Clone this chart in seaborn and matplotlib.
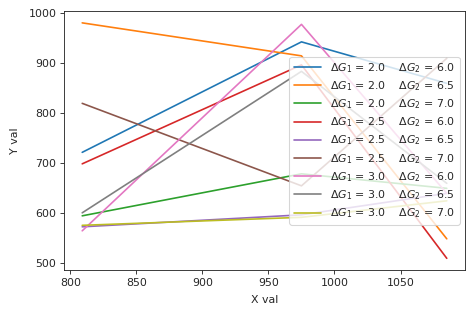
import matplotlib
matplotlib.use("Agg")
import matplotlib.pyplot as plt
import seaborn as sns
import pandas as pd

x_vals = [809, 975, 1085]
dg1 = [2.0, 2.0, 2.0, 2.5, 2.5, 2.5, 3.0, 3.0, 3.0]
dg2 = [6.0, 6.5, 7.0, 6.0, 6.5, 7.0, 6.0, 6.5, 7.0]
y_series = [
    [722, 943, 860],   # 2.0 / 6.0
    [981, 915, 549],   # 2.0 / 6.5
    [595, 679, 650],   # 2.0 / 7.0
    [699, 897, 510],   # 2.5 / 6.0
    [573, 597, 640],   # 2.5 / 6.5
    [820, 655, 910],   # 2.5 / 7.0
    [565, 978, 640],   # 3.0 / 6.0
    [601, 884, 660],   # 3.0 / 6.5
    [576, 592, 625],   # 3.0 / 7.0
]

labels = [rf"$\Delta G_1$ = {a:.1f}    $\Delta G_2$ = {b:.1f}" for a, b in zip(dg1, dg2)]

rows = []
for lab, ys in zip(labels, y_series):
    for xv, yv in zip(x_vals, ys):
        rows.append({"X val": xv, "Y val": yv, "series": lab})
df = pd.DataFrame(rows)

sns.set_style("ticks")
plt.rcParams["font.family"] = ["DejaVu Sans"]

fig = plt.figure(figsize=(6.0, 317 / 79), dpi=79)
ax = fig.add_axes([0.135, 0.148, 0.846, 0.817])
sns.lineplot(data=df, x="X val", y="Y val", hue="series", hue_order=labels,
             palette=sns.color_palette("tab10", 9), ax=ax, linewidth=1.5)
sns.move_legend(ax, "center right", title=None, fontsize=10,
                handlelength=2.5, labelspacing=0.4)
for s in ax.spines.values():
    s.set_visible(True)
ax.set_xlabel("X val", labelpad=7)
ax.set_ylabel("Y val", labelpad=8)
fig.savefig("out.png", dpi=79)
